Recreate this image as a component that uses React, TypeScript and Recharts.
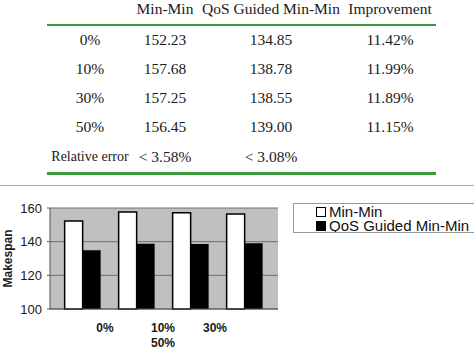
import React from 'react';
import { BarChart, Bar, XAxis, YAxis, CartesianGrid } from 'recharts';

const categories = ['0%', '10%', '30%', '50%'];
const minMinValues = [152.23, 157.68, 157.25, 156.45];
const qosValues = [134.85, 138.78, 138.55, 139.0];
const improvementValues = ['11.42%', '11.99%', '11.89%', '11.15%'];
const columnHeaders = ['Min-Min', 'QoS Guided Min-Min', 'Improvement'];
const relErrorLabel = 'Relative error';
const relErrorValues = ['< 3.58%', '< 3.08%'];
const yTicks = [100, 120, 140, 160];
const seriesNames = ['Min-Min', 'QoS Guided Min-Min'];

const data = categories.map((c, i) => ({ cat: c, minMin: minMinValues[i], qos: qosValues[i] }));

const serif = "'Liberation Serif', 'Times New Roman', serif";
const sans = "'Liberation Sans', Arial, sans-serif";

const colX = [90, 165, 271, 390];
const rowY = [40, 69, 98, 127];

const Cell: React.FC<{ x: number; y: number; size?: number; children: React.ReactNode }> = ({ x, y, size = 15.5, children }) => (
  <div
    style={{
      position: 'absolute',
      left: x,
      top: y,
      transform: 'translate(-50%, -50%)',
      fontFamily: serif,
      fontSize: size,
      color: '#1a1a1a',
      whiteSpace: 'nowrap',
      lineHeight: 1,
    }}
  >
    {children}
  </div>
);

const tickDx = [22, 26, 24, -82];
const tickDy = [0, 0, 0, 15];

const XTick = (props: any) => {
  const { x, y, payload, index } = props;
  return (
    <text
      x={x + tickDx[index]}
      y={y + 19 + tickDy[index]}
      textAnchor="middle"
      dominantBaseline="central"
      fontFamily={sans}
      fontSize={12}
      fontWeight="bold"
      fill="#1a1a1a"
    >
      {payload.value}
    </text>
  );
};

export default function App() {
  return (
    <div
      style={{
        position: 'absolute',
        left: 0,
        top: 0,
        width: 474,
        height: 351,
        overflow: 'hidden',
        background: '#fff',
      }}
    >
      {/* Table header */}
      {columnHeaders.map((h, i) => (
        <Cell key={h} x={colX[i + 1]} y={9}>
          {h}
        </Cell>
      ))}
      <div style={{ position: 'absolute', left: 47, top: 24, width: 389, height: 2, background: '#3c9a3c' }} />
      {categories.map((c, r) => (
        <React.Fragment key={c}>
          <Cell x={colX[0]} y={rowY[r]}>{c}</Cell>
          <Cell x={colX[1]} y={rowY[r]}>{minMinValues[r].toFixed(2)}</Cell>
          <Cell x={colX[2]} y={rowY[r]}>{qosValues[r].toFixed(2)}</Cell>
          <Cell x={colX[3]} y={rowY[r]}>{improvementValues[r]}</Cell>
        </React.Fragment>
      ))}
      <Cell x={colX[0]} y={157} size={14}>{relErrorLabel}</Cell>
      <Cell x={colX[1]} y={157}>{relErrorValues[0]}</Cell>
      <Cell x={colX[2]} y={157}>{relErrorValues[1]}</Cell>
      <div style={{ position: 'absolute', left: 47, top: 172, width: 389, height: 3, background: '#3c9a3c' }} />

      {/* separator */}
      <div style={{ position: 'absolute', left: 0, top: 185, width: 474, height: 1, background: '#aaaaaa' }} />

      {/* Chart */}
      <div style={{ position: 'absolute', left: 0, top: 190 }}>
        <BarChart
          width={474}
          height={161}
          data={data}
          margin={{ top: 18, right: 196, bottom: 12, left: 0 }}
          barGap={0}
          barCategoryGap="16%"
        >
          <CartesianGrid vertical={false} stroke="#6e6e6e" fill="#c0c0c0" fillOpacity={1} />
          <XAxis
            dataKey="cat"
            padding={{ left: 6, right: 6 }}
            height={30}
            tickSize={0}
            tickMargin={0}
            axisLine={{ stroke: '#555' }}
            tickLine={false}
            tick={<XTick />}
            interval={0}
          />
          <YAxis
            domain={[100, 160]}
            ticks={yTicks}
            width={50}
            tickSize={3}
            tickMargin={5}
            axisLine={{ stroke: '#555' }}
            tickLine={{ stroke: '#555' }}
            tick={{ fill: '#1a1a1a', fontSize: 13, fontFamily: sans }}
            label={{
              content: (p: any) => {
                const vb = p.viewBox || { x: 0, y: 18, width: 50, height: 101 };
                const cx = 8;
                const cy = vb.y + vb.height / 2;
                return (
                  <text
                    x={cx}
                    y={cy}
                    transform={`rotate(-90, ${cx}, ${cy})`}
                    textAnchor="middle"
                    dominantBaseline="central"
                    fontFamily={sans}
                    fontSize={12}
                    fontWeight="bold"
                    fill="#1a1a1a"
                  >
                    Makespan
                  </text>
                );
              },
            }}
          />
          <YAxis
            yAxisId="right"
            orientation="right"
            domain={[100, 160]}
            width={0}
            tick={false}
            tickLine={false}
            axisLine={{ stroke: '#555' }}
          />
          <Bar dataKey="minMin" name={seriesNames[0]} fill="#ffffff" stroke="#000" strokeWidth={1.5} isAnimationActive={false} />
          <Bar dataKey="qos" name={seriesNames[1]} fill="#000000" isAnimationActive={false} />
        </BarChart>
      </div>

      {/* Legend */}
      <div
        style={{
          position: 'absolute',
          left: 293,
          top: 203,
          width: 200,
          height: 30,
          border: '1px solid #999',
          boxSizing: 'border-box',
          background: '#fff',
          paddingTop: 1,
          overflow: 'hidden',
        }}
      >
        {seriesNames.map((n, i) => (
          <div key={n} style={{ display: 'flex', alignItems: 'center', height: 14, paddingLeft: 22 }}>
            <div
              style={{
                width: 10,
                height: 10,
                boxSizing: 'border-box',
                border: '1px solid #000',
                background: i === 0 ? '#fff' : '#000',
                marginRight: 3,
              }}
            />
            <span style={{ fontFamily: sans, fontSize: 15, color: '#111', whiteSpace: 'nowrap', lineHeight: '14px' }}>{n}</span>
          </div>
        ))}
      </div>
    </div>
  );
}
